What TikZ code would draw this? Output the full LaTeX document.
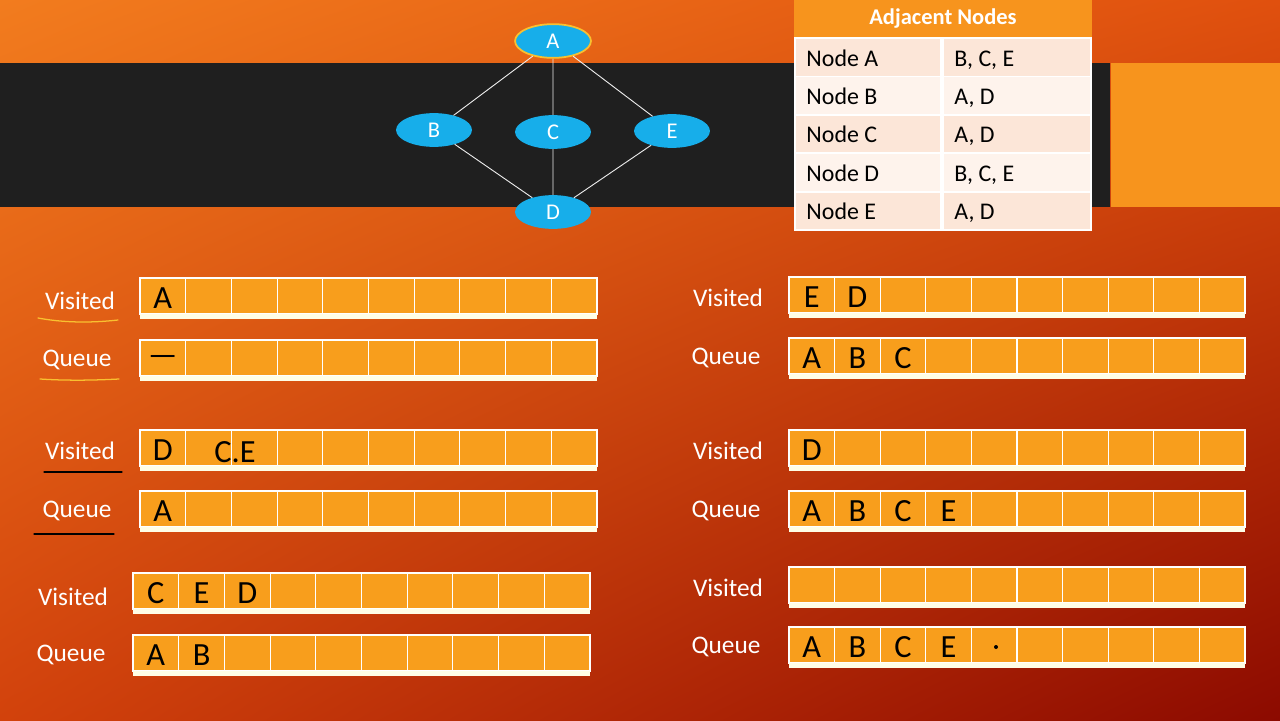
\documentclass[tikz,border=0pt]{standalone}
\usepackage{fontspec}
\setmainfont{Carlito}
\usetikzlibrary{shapes.geometric,shadings}
\definecolor{bgA}{HTML}{F27C1E}
\definecolor{bgTR}{HTML}{E0500E}
\definecolor{bgBL}{HTML}{D2420C}
\definecolor{bgB}{HTML}{8C0A00}
\definecolor{cellc}{HTML}{F89E1C}
\definecolor{nodec}{HTML}{17AEEA}
\definecolor{hdr}{HTML}{F7941D}
\definecolor{rowA}{HTML}{FCE6D8}
\definecolor{rowB}{HTML}{FEF3EC}
\definecolor{ulc}{HTML}{F9C030}
\tikzset{
  gnode/.style={ellipse,fill=nodec,minimum width=108pt,minimum height=48pt,inner sep=0,text=white,font=\fontsize{32}{32}\selectfont},
  edge/.style={draw=white!85!gray,line width=1.3pt},
  lbl/.style={text=white,font=\fontsize{36}{36}\selectfont,anchor=center},
  hand/.style={text=black,font=\fontsize{46}{46}\selectfont},
  tcell/.style={font=\fontsize{34}{34}\selectfont,anchor=base west,text=black},
}
\newcommand\cellgrid[3]{% x0, y0, width
  \foreach \i in {0,...,9}{
    \fill[cellc] ({#1+\i*#3/10},#2) rectangle ({#1+(\i+1)*#3/10},{#2+36});
    \draw[white,line width=1.5pt] ({#1+\i*#3/10},#2) rectangle ({#1+(\i+1)*#3/10},{#2+36});
  }
  \fill[white!90!yellow] (#1,{#2+36}) rectangle ({#1+#3},{#2+41});
}
\newcommand\putin[5]{% x0,y0,width,cellindex,text
  \node[hand] at ({#1+(#4-0.5)*#3/10},{#2+20}) {#5};
}
\begin{document}
\begin{tikzpicture}[x=0.05cm,y=-0.05cm]
\useasboundingbox (0,0) rectangle (1280,720);
\shade[upper left=bgA,upper right=bgTR,lower left=bgBL,lower right=bgB] (0,0) rectangle (1280,720);
\fill[black!88] (0,63) rectangle (1110,207);
\fill[hdr] (1111,63) rectangle (1280,207);
% graph
\node[gnode,draw=ulc,line width=2.5pt] (A) at (553,41) {A};
\node[gnode] (B) at (434,130) {B};
\node[gnode] (C) at (553,132) {C};
\node[gnode] (E) at (672,131) {E};
\node[gnode] (D) at (553,212) {D};
\draw[edge] (A)--(B) (A)--(C) (A)--(E) (B)--(D) (C)--(D) (E)--(D);
% table
\fill[hdr] (794,0) rectangle (1092,37);
\node[text=white,font=\bfseries\fontsize{32}{32}\selectfont] (th) at (943,19) {Adjacent Nodes};
\fill[white] (794,37) rectangle (1092,231);
\foreach \r/\n/\a [count=\k] in {A/{B, C, E},B/{A, D},C/{A, D},D/{B, C, E},E/{A, D}}{
  \pgfmathsetmacro\yy{39+(\k-1)*38.4}
  \ifodd\k \def\rc{rowA}\else\def\rc{rowB}\fi
  \fill[\rc] (796,\yy) rectangle (940,\yy+36.5);
  \fill[\rc] (944,\yy) rectangle (1090,\yy+36.5);
  \node[tcell] (n\k) at (804,\yy+27) {Node \r};
  \node[tcell] (a\k) at (952,\yy+27) {\a};
}
% labels
\node[lbl] (lv1) at (80,301) {Visited};
\node[lbl] (lq1) at (77,360) {Queue};
\node[lbl] (lv2) at (80,451) {Visited};
\node[lbl] (lq2) at (77,511) {Queue};
\node[lbl] (lv3) at (73,597) {Visited};
\node[lbl] (lq3) at (71,655) {Queue};
\node[lbl] (rv1) at (728,298) {Visited};
\node[lbl] (rq1) at (726,358) {Queue};
\node[lbl] (rv2) at (728,451) {Visited};
\node[lbl] (rq2) at (726,511) {Queue};
\node[lbl] (rv3) at (728,588) {Visited};
\node[lbl] (rq3) at (726,647) {Queue};
% underlines
\draw[ulc,line width=1.8pt,line cap=round] (38,318) .. controls (70,324) and (100,322) .. (118,320);
\draw[ulc,line width=1.8pt,line cap=round] (40,379) .. controls (70,381) and (100,380) .. (119,379);
\draw[black,line width=1.8pt,line cap=round] (44,472) -- (122,472);
\draw[black,line width=1.8pt,line cap=round] (34,534) -- (114,534);
% grids
\cellgrid{140}{278}{457}\cellgrid{140}{340}{457}
\cellgrid{140}{430}{457}\cellgrid{140}{491}{457}
\cellgrid{133}{573}{457}\cellgrid{133}{635}{457}
\cellgrid{789}{277}{456}\cellgrid{789}{338}{456}
\cellgrid{789}{430}{456}\cellgrid{789}{491}{456}
\cellgrid{789}{567}{456}\cellgrid{789}{627}{456}
% contents
\putin{140}{278}{457}{1}{A}
\putin{140}{340}{457}{1}{—}
\putin{140}{430}{457}{1}{D}
\node[hand] at (235,452) {C.E};
\putin{140}{491}{457}{1}{A}
\putin{133}{573}{457}{1}{C}\putin{133}{573}{457}{2}{E}\putin{133}{573}{457}{3}{D}
\putin{133}{635}{457}{1}{A}\putin{133}{635}{457}{2}{B}
\putin{789}{277}{456}{1}{E}\putin{789}{277}{456}{2}{D}
\putin{789}{338}{456}{1}{A}\putin{789}{338}{456}{2}{B}\putin{789}{338}{456}{3}{C}
\putin{789}{430}{456}{1}{D}
\putin{789}{491}{456}{1}{A}\putin{789}{491}{456}{2}{B}\putin{789}{491}{456}{3}{C}\putin{789}{491}{456}{4}{E}
\putin{789}{627}{456}{1}{A}\putin{789}{627}{456}{2}{B}\putin{789}{627}{456}{3}{C}\putin{789}{627}{456}{4}{E}
\fill[black] (996,647) circle (2);
\end{tikzpicture}
\end{document}
